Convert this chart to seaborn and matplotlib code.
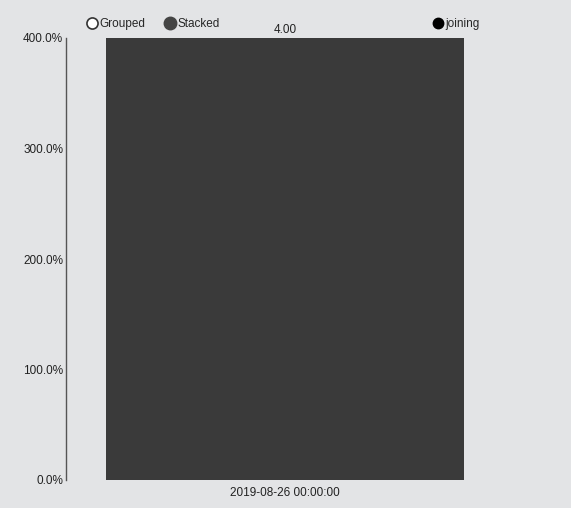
import matplotlib
matplotlib.use("Agg")
import matplotlib.pyplot as plt
import seaborn as sns
import pandas as pd
from matplotlib.lines import Line2D
from matplotlib.ticker import PercentFormatter

# data
dates = ["2019-08-26 00:00:00"]
joining = [4.0]
series_name = "joining"

BG = "#e3e4e6"
BAR = "#3a3a3a"
TXT = "#222222"

df = pd.DataFrame({"date": dates, "value": joining})

sns.set_theme(style="white")
plt.rcParams["font.family"] = ["Liberation Sans", "DejaVu Sans"]
plt.rcParams["font.size"] = 8.5

fig = plt.figure(figsize=(5.71, 5.08), dpi=100, facecolor=BG)
ax = fig.add_axes([66 / 571, 1 - 480 / 508, (504 - 66) / 571, (480 - 38) / 508])
ax.set_facecolor(BG)

sns.barplot(data=df, x="date", y="value", color=BAR, saturation=1,
            width=0.817, ax=ax)
for p in ax.patches:
    p.set_edgecolor("none")

ax.bar_label(ax.containers[0], fmt="%.2f", padding=1.5, fontsize=8.5, color=TXT)

ax.set_ylim(0, 4)
ax.set_yticks([0, 1, 2, 3, 4])
ax.yaxis.set_major_formatter(PercentFormatter(xmax=1, decimals=1))
ax.tick_params(axis="y", length=0, labelsize=8.5, colors=TXT, pad=2)
ax.tick_params(axis="x", length=0, labelsize=8.5, colors=TXT, pad=5)
ax.set_xlabel("")
ax.set_ylabel("")

for s in ["top", "right", "bottom"]:
    ax.spines[s].set_visible(False)
ax.spines["left"].set_color("#555555")
ax.spines["left"].set_linewidth(1)

# control legend (Grouped / Stacked)
ctrl = [
    Line2D([], [], marker="o", linestyle="none", markersize=8,
           markerfacecolor="white", markeredgecolor="#333333", markeredgewidth=1.2,
           label="Grouped"),
    Line2D([], [], marker="o", linestyle="none", markersize=9,
           markerfacecolor="#444444", markeredgecolor="#444444", label="Stacked"),
]
fig.legend(handles=ctrl, loc="center left", bbox_to_anchor=(83 / 571, 1 - 24 / 508),
           ncol=2, frameon=False, handletextpad=-0.1, columnspacing=1.3,
           fontsize=8.5, handlelength=1.5, borderaxespad=0, borderpad=0)

ser = [Line2D([], [], marker="o", linestyle="none", markersize=7.5,
              markerfacecolor="black", markeredgecolor="black", label=series_name)]
fig.legend(handles=ser, loc="center left", bbox_to_anchor=(429 / 571, 1 - 24 / 508),
           frameon=False, handletextpad=-0.1, fontsize=8.5, handlelength=1.5,
           borderaxespad=0, borderpad=0)

fig.savefig("out.png", dpi=100, facecolor=BG)
